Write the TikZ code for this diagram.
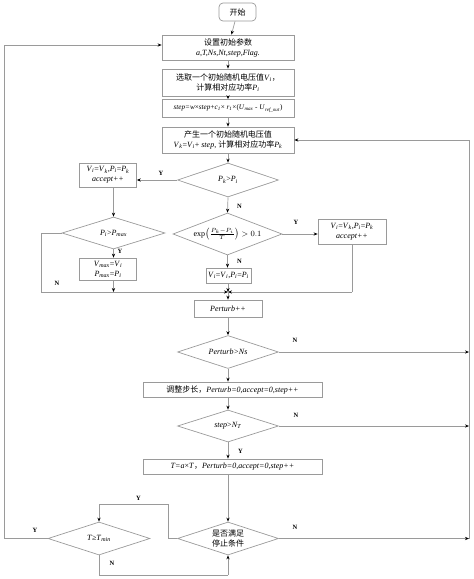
\documentclass[tikz,border=0pt]{standalone}
\usepackage{fontspec}
\setmainfont{Liberation Serif}
\newfontfamily\cjk{Noto Sans CJK SC}
\usetikzlibrary{shapes.geometric,arrows.meta}
\newcommand\vs[2]{\textit{#1}\textsubscript{\textit{#2}}}
\definecolor{ln}{HTML}{9A9A9A}
\begin{document}
\begin{tikzpicture}[x=1pt,y=-1pt,
  box/.style={draw=ln,line width=0.7pt,fill=white,inner sep=1pt,align=center,font=\fontsize{8}{10}\selectfont},
  dia/.style={draw=ln,line width=0.7pt,shape=diamond,aspect=3,inner sep=0pt,align=center,font=\fontsize{8}{10}\selectfont},
  ln/.style={draw=ln,line width=0.7pt},
  arr/.style={ln,-{Stealth[length=4pt,width=3.2pt,color=black]}},
  lab/.style={font=\bfseries\fontsize{6.5}{7}\selectfont,inner sep=0pt}]
\useasboundingbox (0,0) rectangle (474,579);
% nodes
\node[box,rounded corners=4pt,minimum width=37pt,minimum height=18pt] (start) at (237.5,12) {{\cjk 开始}};
\node[box,minimum width=132pt,minimum height=25pt] (init) at (228,47.5) {{\cjk 设置初始参数}\\\textit{a,T,Ns,Nt,step,Flag.}};
\node[box,minimum width=132pt,minimum height=27pt] (sel) at (228,82.5) {{\cjk 选取一个初始随机电压值}\vs{V}{i}{\cjk ，}\\{\cjk 计算相对应功率}\vs{P}{i}};
\node[box,minimum width=132pt,minimum height=18pt,font=\fontsize{7.2}{8}\selectfont] (stp) at (228,108.5) {\textit{step=w}×\textit{step}+\vs{c}{1}× \vs{r}{1}×(\vs{U}{max} - \vs{U}{ref\_out})};
\node[box,minimum width=132pt,minimum height=26pt] (gen) at (228,140) {{\cjk 产生一个初始随机电压值}\\\vs{V}{k}=\vs{V}{i}+ \textit{step}, {\cjk 计算相对应功率}\vs{P}{k}};
\node[dia,minimum width=101pt,minimum height=34pt] (d1) at (228,180) {\vs{P}{k}>\vs{P}{i}};
\node[box,minimum width=57pt,minimum height=24pt] (acc1) at (108,175) {\vs{V}{i}=\vs{V}{k},\vs{P}{i}=\vs{P}{k}\\\textit{accept++}};
\node[dia,minimum width=103pt,minimum height=32pt] (d2) at (113.5,233) {\vs{P}{i}>\vs{P}{max}};
\node[box,minimum width=57pt,minimum height=22pt] (vmax) at (108,269) {\vs{V}{max}=\vs{V}{i}\\\vs{P}{max}=\vs{P}{i}};
\node[dia,minimum width=109pt,minimum height=42pt] (d3) at (227.5,234) {$\exp\!\left(\frac{P_k-P_i}{T}\right)>0.1$};
\node[box,minimum width=68pt,minimum height=25pt] (acc2) at (352,231.5) {\vs{V}{i}=\vs{V}{k},\vs{P}{i}=\vs{P}{k}\\\textit{accept++}};
\node[box,minimum width=45pt,minimum height=15pt] (keep) at (228.5,275.5) {\vs{V}{i}=\vs{V}{i},\vs{P}{i}=\vs{P}{i}};
\coordinate (m) at (228,292);
\node[box,minimum width=68pt,minimum height=17pt] (pert) at (228,308.5) {\textit{Perturb++}};
\node[dia,minimum width=101pt,minimum height=33pt] (d4) at (228,352) {\textit{Perturb>Ns}};
\node[box,minimum width=179pt,minimum height=15pt] (adj) at (232.5,389.5) {{\cjk 调整步长，}\textit{Perturb=0,accept=0,step++}};
\node[dia,minimum width=101pt,minimum height=32pt] (d5) at (228,426) {\textit{step}>\vs{N}{T}};
\node[box,minimum width=179pt,minimum height=15pt] (temp) at (232.5,466.5) {\textit{T=a}×\textit{T}{\cjk ，}\textit{Perturb=0,accept=0,step++}};
\node[dia,minimum width=101pt,minimum height=33pt] (d6) at (228,538.5) {{\cjk 是否满足}\\{\cjk 停止条件}};
\node[dia,minimum width=102pt,minimum height=33pt] (d7) at (99,538.5) {\textit{T}≥\vs{T}{min}};
% helper coordinates
\coordinate (R) at (469,140);
\coordinate (L) at (4,45);
% connectors
\draw[arr] (start) -- (init);
\draw[arr] (init) -- (sel);
\draw[arr] (sel) -- (stp);
\draw[arr] (stp) -- (gen);
\draw[arr] (gen) -- (d1);
\draw[arr] (d1.west) -- (acc1.east |- d1.west);
\draw[arr] (acc1.south -| d2.north) -- (d2.north);
\draw[arr] (d2.south) -- (vmax.north -| d2.south);
\draw[arr] (vmax.south -| d2.south) -- (d2.south |- m);
\draw[ln] (d2.west) -- (41,233) -- (41,292) -- (d2.south |- m);
\draw[arr] (d2.south |- m) -- (m);
\draw[arr] (d1.south) -- (d3.north);
\draw[arr] (d3.east) -- (acc2.west |- d3.east);
\draw[ln] (acc2.south) -- (acc2.south |- m);
\draw[arr] (acc2.south |- m) -- (m);
\draw[arr] (d3.south) -- (keep.north -| d3.south);
\draw[arr] (keep.south -| m) -- (m);
\draw[arr] (m) -- (pert);
\draw[arr] (pert) -- (d4);
\draw[arr] (d4) -- (adj.north -| d4.south);
\draw[arr] (adj.south -| d5.north) -- (d5);
\draw[arr] (d5) -- (temp.north -| d5.south);
\draw[arr] (temp.south -| d6.north) -- (d6);
\draw[arr] (d4.east) -- (d4.east -| R);
\draw[arr] (d5.east) -- (d5.east -| R);
\draw[arr] (d6.east) -- (d6.east -| R);
\draw[ln] (d6.east -| R) -- (R);
\draw[arr] (R) -- (gen.east);
\draw[ln] (d6.west) -- (168,538.5) -- (168,504) -- (d7.north |- 0,504);
\draw[arr] (d7.north |- 0,504) -- (d7.north);
\draw[ln] (d7.south) -- (d7.south |- 0,575) -- (d6.south |- 0,575);
\draw[arr] (d6.south |- 0,575) -- (d6.south);
\draw[ln] (d7.west) -- (d7.west -| L) -- (L);
\draw[arr] (L) -- (init.west |- L);
% labels
\node[lab] (l1) at (161,173) {Y};
\node[lab] (l2) at (239.5,206) {N};
\node[lab] (l3) at (120,251) {Y};
\node[lab] (l4) at (57,283) {N};
\node[lab] (l5) at (296,222) {Y};
\node[lab] (l6) at (239.5,261) {N};
\node[lab] (l7) at (295,340) {N};
\node[lab] (l8) at (296,415) {N};
\node[lab] (l9) at (240.5,451) {Y};
\node[lab] (l10) at (295,527) {N};
\node[lab] (l11) at (138.5,498) {Y};
\node[lab] (l12) at (35,530) {Y};
\node[lab] (l13) at (112,563) {N};
\end{tikzpicture}
\end{document}
